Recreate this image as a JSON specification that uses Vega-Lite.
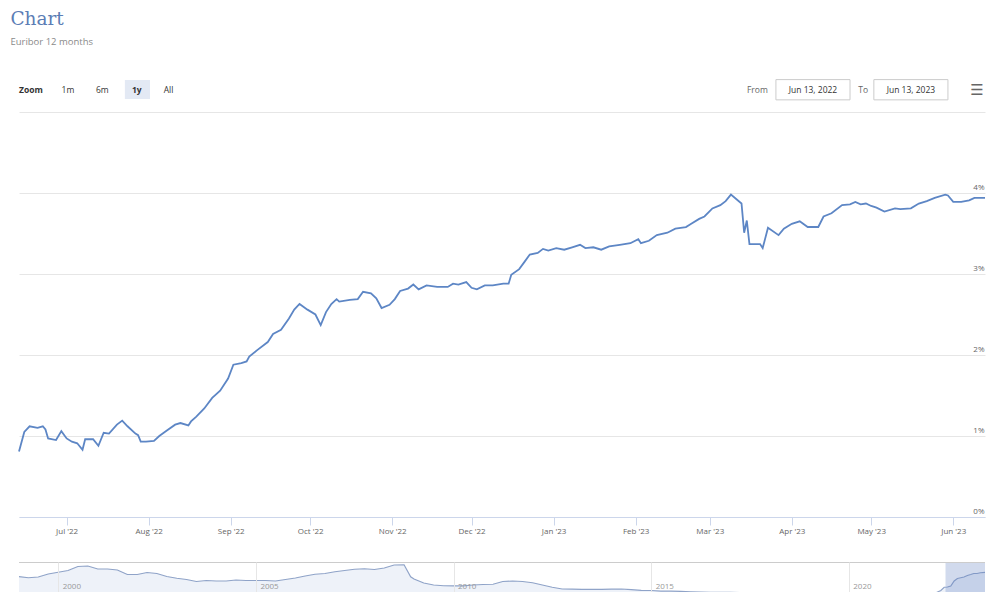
{
  "$schema": "https://vega.github.io/schema/vega-lite/v6.json",
  "background": "white",
  "padding": {"left": 10, "top": 10, "right": 15, "bottom": 0},
  "bounds": "flush",
  "spacing": 45,
  "config": {"view": {"stroke": null}, "font": "Open Sans"},
  "title": {
    "text": "Chart",
    "subtitle": "Euribor 12 months",
    "anchor": "start",
    "dx": -5,
    "font": "DejaVu Serif",
    "fontSize": 18.5,
    "fontWeight": "normal",
    "color": "#5b7db5",
    "subtitleFont": "Open Sans",
    "subtitleFontSize": 9.5,
    "subtitleColor": "#8a8a8a",
    "subtitlePadding": 8,
    "offset": 33
  },
  "datasets": {
    "main": [
      {"date": "2022-06-13", "rate": 0.81}, {"date": "2022-06-15", "rate": 1.05}, {"date": "2022-06-17", "rate": 1.12},
      {"date": "2022-06-20", "rate": 1.10}, {"date": "2022-06-22", "rate": 1.12}, {"date": "2022-06-23", "rate": 1.08},
      {"date": "2022-06-24", "rate": 0.97}, {"date": "2022-06-27", "rate": 0.95}, {"date": "2022-06-29", "rate": 1.06},
      {"date": "2022-07-01", "rate": 0.97}, {"date": "2022-07-03", "rate": 0.93}, {"date": "2022-07-05", "rate": 0.91},
      {"date": "2022-07-07", "rate": 0.83}, {"date": "2022-07-08", "rate": 0.96}, {"date": "2022-07-11", "rate": 0.96},
      {"date": "2022-07-13", "rate": 0.88}, {"date": "2022-07-15", "rate": 1.04}, {"date": "2022-07-17", "rate": 1.03},
      {"date": "2022-07-20", "rate": 1.14}, {"date": "2022-07-22", "rate": 1.19}, {"date": "2022-07-24", "rate": 1.12},
      {"date": "2022-07-27", "rate": 1.03}, {"date": "2022-07-28", "rate": 1.01}, {"date": "2022-07-29", "rate": 0.93},
      {"date": "2022-07-31", "rate": 0.93}, {"date": "2022-08-03", "rate": 0.94}, {"date": "2022-08-05", "rate": 1.00},
      {"date": "2022-08-08", "rate": 1.07}, {"date": "2022-08-11", "rate": 1.14}, {"date": "2022-08-13", "rate": 1.16},
      {"date": "2022-08-16", "rate": 1.13}, {"date": "2022-08-17", "rate": 1.18}, {"date": "2022-08-19", "rate": 1.24},
      {"date": "2022-08-22", "rate": 1.34}, {"date": "2022-08-25", "rate": 1.47}, {"date": "2022-08-28", "rate": 1.56},
      {"date": "2022-08-31", "rate": 1.71}, {"date": "2022-09-02", "rate": 1.88}, {"date": "2022-09-05", "rate": 1.90},
      {"date": "2022-09-07", "rate": 1.92}, {"date": "2022-09-08", "rate": 1.98}, {"date": "2022-09-11", "rate": 2.06},
      {"date": "2022-09-15", "rate": 2.16}, {"date": "2022-09-17", "rate": 2.26}, {"date": "2022-09-20", "rate": 2.31},
      {"date": "2022-09-23", "rate": 2.45}, {"date": "2022-09-25", "rate": 2.56}, {"date": "2022-09-27", "rate": 2.63},
      {"date": "2022-09-30", "rate": 2.56}, {"date": "2022-10-03", "rate": 2.50}, {"date": "2022-10-05", "rate": 2.37},
      {"date": "2022-10-07", "rate": 2.53}, {"date": "2022-10-09", "rate": 2.63}, {"date": "2022-10-11", "rate": 2.69},
      {"date": "2022-10-12", "rate": 2.66}, {"date": "2022-10-16", "rate": 2.68}, {"date": "2022-10-19", "rate": 2.69},
      {"date": "2022-10-21", "rate": 2.78}, {"date": "2022-10-24", "rate": 2.76}, {"date": "2022-10-26", "rate": 2.70},
      {"date": "2022-10-28", "rate": 2.58}, {"date": "2022-10-31", "rate": 2.62}, {"date": "2022-11-02", "rate": 2.69},
      {"date": "2022-11-04", "rate": 2.79}, {"date": "2022-11-07", "rate": 2.82}, {"date": "2022-11-09", "rate": 2.87},
      {"date": "2022-11-11", "rate": 2.81}, {"date": "2022-11-14", "rate": 2.86}, {"date": "2022-11-18", "rate": 2.84},
      {"date": "2022-11-22", "rate": 2.84}, {"date": "2022-11-24", "rate": 2.88}, {"date": "2022-11-26", "rate": 2.87},
      {"date": "2022-11-29", "rate": 2.90}, {"date": "2022-12-01", "rate": 2.83}, {"date": "2022-12-03", "rate": 2.81},
      {"date": "2022-12-06", "rate": 2.86}, {"date": "2022-12-09", "rate": 2.86}, {"date": "2022-12-13", "rate": 2.88},
      {"date": "2022-12-15", "rate": 2.88}, {"date": "2022-12-16", "rate": 2.99}, {"date": "2022-12-19", "rate": 3.06},
      {"date": "2022-12-21", "rate": 3.15}, {"date": "2022-12-23", "rate": 3.24}, {"date": "2022-12-26", "rate": 3.26},
      {"date": "2022-12-28", "rate": 3.31}, {"date": "2022-12-30", "rate": 3.29}, {"date": "2023-01-02", "rate": 3.32},
      {"date": "2023-01-05", "rate": 3.30}, {"date": "2023-01-08", "rate": 3.33}, {"date": "2023-01-11", "rate": 3.36},
      {"date": "2023-01-13", "rate": 3.32}, {"date": "2023-01-16", "rate": 3.33}, {"date": "2023-01-19", "rate": 3.30},
      {"date": "2023-01-22", "rate": 3.34}, {"date": "2023-01-26", "rate": 3.36}, {"date": "2023-01-30", "rate": 3.38},
      {"date": "2023-02-02", "rate": 3.43}, {"date": "2023-02-03", "rate": 3.38}, {"date": "2023-02-06", "rate": 3.41},
      {"date": "2023-02-09", "rate": 3.48}, {"date": "2023-02-13", "rate": 3.51}, {"date": "2023-02-16", "rate": 3.56},
      {"date": "2023-02-20", "rate": 3.58}, {"date": "2023-02-22", "rate": 3.62}, {"date": "2023-02-25", "rate": 3.68},
      {"date": "2023-02-27", "rate": 3.71}, {"date": "2023-03-02", "rate": 3.81}, {"date": "2023-03-05", "rate": 3.85},
      {"date": "2023-03-07", "rate": 3.90}, {"date": "2023-03-09", "rate": 3.98}, {"date": "2023-03-13", "rate": 3.87},
      {"date": "2023-03-14", "rate": 3.51}, {"date": "2023-03-15", "rate": 3.66}, {"date": "2023-03-16", "rate": 3.37},
      {"date": "2023-03-20", "rate": 3.37}, {"date": "2023-03-21", "rate": 3.32}, {"date": "2023-03-23", "rate": 3.57},
      {"date": "2023-03-27", "rate": 3.48}, {"date": "2023-03-29", "rate": 3.56}, {"date": "2023-04-01", "rate": 3.62},
      {"date": "2023-04-04", "rate": 3.65}, {"date": "2023-04-07", "rate": 3.58}, {"date": "2023-04-11", "rate": 3.58},
      {"date": "2023-04-13", "rate": 3.71}, {"date": "2023-04-16", "rate": 3.75}, {"date": "2023-04-20", "rate": 3.85},
      {"date": "2023-04-23", "rate": 3.86}, {"date": "2023-04-25", "rate": 3.89}, {"date": "2023-04-27", "rate": 3.86},
      {"date": "2023-04-29", "rate": 3.87}, {"date": "2023-05-01", "rate": 3.84}, {"date": "2023-05-03", "rate": 3.82},
      {"date": "2023-05-06", "rate": 3.77}, {"date": "2023-05-10", "rate": 3.81}, {"date": "2023-05-12", "rate": 3.80},
      {"date": "2023-05-16", "rate": 3.81}, {"date": "2023-05-19", "rate": 3.87}, {"date": "2023-05-22", "rate": 3.90},
      {"date": "2023-05-25", "rate": 3.94}, {"date": "2023-05-29", "rate": 3.98}, {"date": "2023-05-30", "rate": 3.97},
      {"date": "2023-06-01", "rate": 3.89}, {"date": "2023-06-04", "rate": 3.89}, {"date": "2023-06-07", "rate": 3.91},
      {"date": "2023-06-09", "rate": 3.94}, {"date": "2023-06-13", "rate": 3.94}
    ],
    "nav": [
      {"date": "1999-01-04", "rate": 3.09}, {"date": "1999-04-01", "rate": 2.85}, {"date": "1999-07-01", "rate": 3.00},
      {"date": "1999-10-01", "rate": 3.60}, {"date": "2000-01-01", "rate": 3.95}, {"date": "2000-04-01", "rate": 4.30},
      {"date": "2000-07-01", "rate": 5.10}, {"date": "2000-10-01", "rate": 5.20}, {"date": "2001-01-01", "rate": 4.60},
      {"date": "2001-04-01", "rate": 4.60}, {"date": "2001-07-01", "rate": 4.40}, {"date": "2001-10-01", "rate": 3.50},
      {"date": "2002-01-01", "rate": 3.50}, {"date": "2002-04-01", "rate": 3.90}, {"date": "2002-07-01", "rate": 3.70},
      {"date": "2002-10-01", "rate": 3.10}, {"date": "2003-01-01", "rate": 2.75}, {"date": "2003-04-01", "rate": 2.50},
      {"date": "2003-07-01", "rate": 2.10}, {"date": "2003-10-01", "rate": 2.30}, {"date": "2004-01-01", "rate": 2.20},
      {"date": "2004-04-01", "rate": 2.20}, {"date": "2004-07-01", "rate": 2.40}, {"date": "2004-10-01", "rate": 2.30},
      {"date": "2005-01-01", "rate": 2.30}, {"date": "2005-04-01", "rate": 2.30}, {"date": "2005-07-01", "rate": 2.20},
      {"date": "2005-10-01", "rate": 2.50}, {"date": "2006-01-01", "rate": 2.80}, {"date": "2006-04-01", "rate": 3.20},
      {"date": "2006-07-01", "rate": 3.55}, {"date": "2006-10-01", "rate": 3.70}, {"date": "2007-01-01", "rate": 4.05},
      {"date": "2007-04-01", "rate": 4.30}, {"date": "2007-07-01", "rate": 4.55}, {"date": "2007-10-01", "rate": 4.65},
      {"date": "2008-01-01", "rate": 4.50}, {"date": "2008-04-01", "rate": 4.80}, {"date": "2008-07-01", "rate": 5.40},
      {"date": "2008-10-01", "rate": 5.45}, {"date": "2008-12-01", "rate": 3.05}, {"date": "2009-01-01", "rate": 2.60},
      {"date": "2009-04-01", "rate": 1.80}, {"date": "2009-07-01", "rate": 1.40}, {"date": "2009-10-01", "rate": 1.25},
      {"date": "2010-01-01", "rate": 1.23}, {"date": "2010-04-01", "rate": 1.22}, {"date": "2010-07-01", "rate": 1.40},
      {"date": "2010-10-01", "rate": 1.50}, {"date": "2011-01-01", "rate": 1.55}, {"date": "2011-04-01", "rate": 2.10},
      {"date": "2011-07-01", "rate": 2.20}, {"date": "2011-10-01", "rate": 2.10}, {"date": "2012-01-01", "rate": 1.85},
      {"date": "2012-04-01", "rate": 1.40}, {"date": "2012-07-01", "rate": 0.95}, {"date": "2012-10-01", "rate": 0.60},
      {"date": "2013-01-01", "rate": 0.58}, {"date": "2013-04-01", "rate": 0.52}, {"date": "2013-07-01", "rate": 0.52},
      {"date": "2013-10-01", "rate": 0.54}, {"date": "2014-01-01", "rate": 0.56}, {"date": "2014-04-01", "rate": 0.60},
      {"date": "2014-07-01", "rate": 0.49}, {"date": "2014-10-01", "rate": 0.33}, {"date": "2015-01-01", "rate": 0.30},
      {"date": "2015-04-01", "rate": 0.18}, {"date": "2015-07-01", "rate": 0.16}, {"date": "2015-10-01", "rate": 0.13},
      {"date": "2016-01-01", "rate": 0.05}, {"date": "2016-04-01", "rate": -0.01}, {"date": "2016-07-01", "rate": -0.05},
      {"date": "2016-10-01", "rate": -0.07}, {"date": "2017-01-01", "rate": -0.09}, {"date": "2017-04-01", "rate": -0.12},
      {"date": "2017-07-01", "rate": -0.15}, {"date": "2017-10-01", "rate": -0.18}, {"date": "2018-01-01", "rate": -0.19},
      {"date": "2018-04-01", "rate": -0.19}, {"date": "2018-07-01", "rate": -0.18}, {"date": "2018-10-01", "rate": -0.15},
      {"date": "2019-01-01", "rate": -0.12}, {"date": "2019-04-01", "rate": -0.11}, {"date": "2019-07-01", "rate": -0.28},
      {"date": "2019-10-01", "rate": -0.30}, {"date": "2020-01-01", "rate": -0.25}, {"date": "2020-04-01", "rate": -0.15},
      {"date": "2020-07-01", "rate": -0.30}, {"date": "2020-10-01", "rate": -0.47}, {"date": "2021-01-01", "rate": -0.50},
      {"date": "2021-04-01", "rate": -0.48}, {"date": "2021-07-01", "rate": -0.49}, {"date": "2021-10-01", "rate": -0.47},
      {"date": "2022-01-01", "rate": -0.48}, {"date": "2022-03-01", "rate": -0.30}, {"date": "2022-04-01", "rate": 0.01},
      {"date": "2022-05-01", "rate": 0.30}, {"date": "2022-06-01", "rate": 0.95}, {"date": "2022-07-01", "rate": 1.00},
      {"date": "2022-08-01", "rate": 1.20}, {"date": "2022-09-01", "rate": 2.20}, {"date": "2022-10-01", "rate": 2.70},
      {"date": "2022-11-01", "rate": 2.85}, {"date": "2022-12-01", "rate": 3.00}, {"date": "2023-01-01", "rate": 3.30},
      {"date": "2023-02-01", "rate": 3.50}, {"date": "2023-03-01", "rate": 3.70}, {"date": "2023-04-01", "rate": 3.70},
      {"date": "2023-05-01", "rate": 3.85}, {"date": "2023-06-13", "rate": 3.94}
    ]
  },
  "vconcat": [
    {
      "width": 966,
      "height": 405,
      "layer": [
        {
          "data": {"name": "main"},
          "mark": {"type": "line", "color": "#5d86c5", "strokeWidth": 1.8},
          "encoding": {
            "x": {
              "field": "date", "type": "temporal",
              "scale": {"type": "utc", "domain": [{"year": 2022, "month": 6, "date": 13, "utc": true}, {"year": 2023, "month": 6, "date": 13, "utc": true}]},
              "axis": {
                "title": null, "format": "%b '%y", "labelFlush": false, "labelOverlap": false,
                "values": [
                  {"year": 2022, "month": 7, "date": 1, "utc": true}, {"year": 2022, "month": 8, "date": 1, "utc": true},
                  {"year": 2022, "month": 9, "date": 1, "utc": true}, {"year": 2022, "month": 10, "date": 1, "utc": true},
                  {"year": 2022, "month": 11, "date": 1, "utc": true}, {"year": 2022, "month": 12, "date": 1, "utc": true},
                  {"year": 2023, "month": 1, "date": 1, "utc": true}, {"year": 2023, "month": 2, "date": 1, "utc": true},
                  {"year": 2023, "month": 3, "date": 1, "utc": true}, {"year": 2023, "month": 4, "date": 1, "utc": true},
                  {"year": 2023, "month": 5, "date": 1, "utc": true}, {"year": 2023, "month": 6, "date": 1, "utc": true}
                ],
                "grid": false, "domainColor": "#ccd6eb", "tickColor": "#ccd6eb", "tickSize": 8,
                "labelPadding": 2, "labelFont": "Open Sans", "labelFontSize": 8, "labelColor": "#666666"
              }
            },
            "y": {
              "field": "rate", "type": "quantitative",
              "scale": {"domain": [0, 5]},
              "axis": {
                "orient": "right", "title": null, "values": [0, 1, 2, 3, 4, 5],
                "labelExpr": "datum.value < 5 ? datum.value + '%' : ''",
                "grid": true, "gridColor": "#e6e6e6", "domain": false, "ticks": false, "tickSize": 0,
                "labelAlign": "right", "labelPadding": -1, "labelBaseline": "middle", "labelOffset": -6,
                "labelFlush": false, "labelOverlap": false,
                "labelFont": "Open Sans", "labelFontSize": 8, "labelColor": "#666666"
              }
            }
          }
        },
        {
          "data": {"values": [{}]},
          "mark": {"type": "rect", "color": "#e3e9f4"},
          "encoding": {
            "x": {"datum": {"year": 2022, "month": 7, "date": 23, "utc": true}, "type": "temporal"},
            "x2": {"datum": {"year": 2022, "month": 8, "date": 1, "hours": 12, "utc": true}},
            "y": {"datum": 5.395}, "y2": {"datum": 5.16}
          }
        },
        {
          "data": {"values": [{}]},
          "mark": {"type": "rect", "fill": "white", "stroke": "#cccccc", "strokeWidth": 1},
          "encoding": {
            "x": {"datum": {"year": 2023, "month": 3, "date": 26, "utc": true}, "type": "temporal"},
            "x2": {"datum": {"year": 2023, "month": 4, "date": 23, "utc": true}},
            "y": {"datum": 5.40}, "y2": {"datum": 5.15}
          }
        },
        {
          "data": {"values": [{}]},
          "mark": {"type": "rect", "fill": "white", "stroke": "#cccccc", "strokeWidth": 1},
          "encoding": {
            "x": {"datum": {"year": 2023, "month": 5, "date": 2, "utc": true}, "type": "temporal"},
            "x2": {"datum": {"year": 2023, "month": 5, "date": 30, "utc": true}},
            "y": {"datum": 5.40}, "y2": {"datum": 5.15}
          }
        },
        {
          "data": {"values": [{}]},
          "mark": {"type": "text", "text": "Zoom", "align": "left", "baseline": "middle", "fontSize": 8.5, "fontWeight": "bold", "color": "#333333", "font": "Open Sans"},
          "encoding": {"x": {"datum": {"year": 2022, "month": 6, "date": 13, "utc": true}, "type": "temporal"}, "y": {"datum": 5.27}}
        },
        {
          "data": {"values": [{}]},
          "mark": {"type": "text", "text": "1m", "align": "center", "baseline": "middle", "fontSize": 8.5, "color": "#333333", "font": "Open Sans"},
          "encoding": {"x": {"datum": {"year": 2022, "month": 7, "date": 1, "hours": 12, "utc": true}, "type": "temporal"}, "y": {"datum": 5.27}}
        },
        {
          "data": {"values": [{}]},
          "mark": {"type": "text", "text": "6m", "align": "center", "baseline": "middle", "fontSize": 8.5, "color": "#333333", "font": "Open Sans"},
          "encoding": {"x": {"datum": {"year": 2022, "month": 7, "date": 14, "hours": 12, "utc": true}, "type": "temporal"}, "y": {"datum": 5.27}}
        },
        {
          "data": {"values": [{}]},
          "mark": {"type": "text", "text": "1y", "align": "center", "baseline": "middle", "fontSize": 8.5, "fontWeight": "bold", "color": "#333333", "font": "Open Sans"},
          "encoding": {"x": {"datum": {"year": 2022, "month": 7, "date": 27, "hours": 12, "utc": true}, "type": "temporal"}, "y": {"datum": 5.27}}
        },
        {
          "data": {"values": [{}]},
          "mark": {"type": "text", "text": "All", "align": "center", "baseline": "middle", "fontSize": 8.5, "color": "#333333", "font": "Open Sans"},
          "encoding": {"x": {"datum": {"year": 2022, "month": 8, "date": 8, "hours": 12, "utc": true}, "type": "temporal"}, "y": {"datum": 5.27}}
        },
        {
          "data": {"values": [{}]},
          "mark": {"type": "text", "text": "From", "align": "center", "baseline": "middle", "fontSize": 8.5, "color": "#666666", "font": "Open Sans"},
          "encoding": {"x": {"datum": {"year": 2023, "month": 3, "date": 19, "utc": true}, "type": "temporal"}, "y": {"datum": 5.27}}
        },
        {
          "data": {"values": [{}]},
          "mark": {"type": "text", "text": "Jun 13, 2022", "align": "center", "baseline": "middle", "fontSize": 8.5, "color": "#333333", "font": "Open Sans"},
          "encoding": {"x": {"datum": {"year": 2023, "month": 4, "date": 9, "utc": true}, "type": "temporal"}, "y": {"datum": 5.27}}
        },
        {
          "data": {"values": [{}]},
          "mark": {"type": "text", "text": "To", "align": "center", "baseline": "middle", "fontSize": 8.5, "color": "#666666", "font": "Open Sans"},
          "encoding": {"x": {"datum": {"year": 2023, "month": 4, "date": 28, "utc": true}, "type": "temporal"}, "y": {"datum": 5.27}}
        },
        {
          "data": {"values": [{}]},
          "mark": {"type": "text", "text": "Jun 13, 2023", "align": "center", "baseline": "middle", "fontSize": 8.5, "color": "#333333", "font": "Open Sans"},
          "encoding": {"x": {"datum": {"year": 2023, "month": 5, "date": 16, "utc": true}, "type": "temporal"}, "y": {"datum": 5.27}}
        },
        {
          "data": {"values": [{}]},
          "mark": {"type": "text", "text": "☰", "align": "center", "baseline": "middle", "fontSize": 15, "color": "#666666", "font": "DejaVu Sans"},
          "encoding": {"x": {"datum": {"year": 2023, "month": 6, "date": 10, "utc": true}, "type": "temporal"}, "y": {"datum": 5.27}}
        }
      ]
    },
    {
      "width": 966,
      "height": 40,
      "layer": [
        {
          "data": {"name": "nav"},
          "mark": {"type": "area", "color": "#eef2f9"},
          "encoding": {
            "x": {
              "field": "date", "type": "temporal",
              "scale": {"type": "utc", "domain": [{"year": 1999, "month": 1, "date": 4, "utc": true}, {"year": 2023, "month": 6, "date": 13, "utc": true}]},
              "axis": {
                "title": null, "format": "%Y", "labelFlush": false, "labelOverlap": false, "zindex": 1,
                "values": [
                  {"year": 2000, "month": 1, "date": 1, "utc": true}, {"year": 2005, "month": 1, "date": 1, "utc": true},
                  {"year": 2010, "month": 1, "date": 1, "utc": true}, {"year": 2015, "month": 1, "date": 1, "utc": true},
                  {"year": 2020, "month": 1, "date": 1, "utc": true}
                ],
                "grid": true, "gridColor": "#e6e6e6", "domain": false, "ticks": false, "tickSize": 0,
                "labelAlign": "left", "labelBaseline": "top", "labelPadding": -20, "labelOffset": 4,
                "labelFont": "Open Sans", "labelFontSize": 8, "labelColor": "#999999"
              }
            },
            "y": {"field": "rate", "type": "quantitative", "scale": {"domain": [-1.3, 5.9]}, "axis": null},
            "y2": {"datum": -1.3}
          }
        },
        {
          "data": {"name": "nav"},
          "mark": {"type": "line", "color": "#8fa3c8", "strokeWidth": 1.2},
          "encoding": {
            "x": {"field": "date", "type": "temporal"},
            "y": {"field": "rate", "type": "quantitative"}
          }
        },
        {
          "data": {"values": [{}]},
          "mark": {"type": "rect", "color": "#6685c2", "opacity": 0.3},
          "encoding": {
            "x": {"datum": {"year": 2022, "month": 6, "date": 13, "utc": true}, "type": "temporal"},
            "x2": {"datum": {"year": 2023, "month": 6, "date": 13, "utc": true}},
            "y": {"datum": 5.9}, "y2": {"datum": -1.3}
          }
        },
        {
          "data": {"values": [{}]},
          "mark": {"type": "rule", "color": "#cccccc", "strokeWidth": 1},
          "encoding": {"y": {"datum": 5.9}}
        }
      ]
    }
  ]
}
